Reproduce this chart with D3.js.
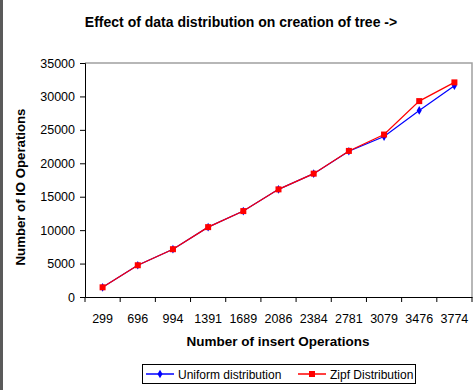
<!DOCTYPE html>
<html><head><meta charset="utf-8">
<script src="https://cdn.jsdelivr.net/npm/d3@7"></script>
<style>body{margin:0;background:#fff}svg{display:block}text{font-family:"Liberation Sans",Arial,sans-serif}</style>
</head><body><svg id="c" width="474" height="390"></svg>
<script>
const categories = ["299","696","994","1391","1689","2086","2384","2781","3079","3476","3774"];
const uniform = [1450,4750,7150,10450,12850,16100,18450,21800,24000,27900,31600];
const zipf    = [1450,4750,7150,10450,12850,16100,18450,21850,24300,29300,32100];
const yTicks  = [0,5000,10000,15000,20000,25000,30000,35000];
const seriesNames = ["Uniform distribution","Zipf Distribution"];
const colors = ["#0000ff","#ff0000"];

const svg = d3.select("#c");
const L=85, R=472, T=63, B=297;
svg.append("rect").attr("x",0).attr("y",0).attr("width",3).attr("height",390).attr("fill","#5a5a5a");

const x = d3.scaleBand().domain(categories).range([L,R]);
const y = d3.scaleLinear().domain([0,35000]).range([B,T]);

svg.append("path").attr("d",`M${L},${T}H${R}V${B}`).attr("fill","none").attr("stroke","#a0a0a0").attr("stroke-width",1.5);

const ya = svg.append("g").attr("transform",`translate(${L},0)`)
  .call(d3.axisLeft(y).tickValues(yTicks).tickSize(5).tickPadding(5).tickFormat(d3.format("d")));
ya.select(".domain").attr("stroke","#000");
ya.selectAll("text").attr("font-size",12.5).attr("fill","#000");

const xa = svg.append("g").attr("transform",`translate(0,${B})`)
  .call(d3.axisBottom(x).tickSize(0).tickPadding(17));
xa.select(".domain").attr("stroke","#000");
xa.selectAll("text").attr("font-size",12.5).attr("fill","#000");
const bounds = categories.map(c=>x(c)).concat([R]);
xa.selectAll("line.b").data(bounds).enter().append("line").attr("class","b")
  .attr("x1",d=>d).attr("x2",d=>d).attr("y1",0).attr("y2",5).attr("stroke","#000");

const line = d3.line().x((d,i)=>x(categories[i])+x.bandwidth()/2).y(d=>y(d));
[uniform,zipf].forEach((s,k)=>{
  svg.append("path").datum(s).attr("d",line).attr("fill","none").attr("stroke",colors[k]).attr("stroke-width",1.2);
});
svg.selectAll("path.um").data(uniform).enter().append("path").attr("class","um")
  .attr("transform",(d,i)=>`translate(${x(categories[i])+x.bandwidth()/2},${y(d)})`)
  .attr("d",d3.symbol(d3.symbolDiamond,22)).attr("fill",colors[0]);
svg.selectAll("rect.zm").data(zipf).enter().append("rect").attr("class","zm")
  .attr("x",(d,i)=>x(categories[i])+x.bandwidth()/2-3).attr("y",d=>y(d)-3)
  .attr("width",6).attr("height",6).attr("fill",colors[1]);

svg.append("text").attr("x",241).attr("y",27).attr("text-anchor","middle")
  .attr("font-size",14).attr("font-weight","bold").text("Effect of data distribution on creation of tree ->");
svg.append("text").attr("transform",`translate(25,187) rotate(-90)`).attr("text-anchor","middle")
  .attr("font-size",13.2).attr("font-weight","bold").text("Number of IO Operations");
svg.append("text").attr("x",278).attr("y",346).attr("text-anchor","middle")
  .attr("font-size",13.5).attr("font-weight","bold").text("Number of insert Operations");

const lg = svg.append("g");
lg.append("rect").attr("x",142.5).attr("y",364.5).attr("width",273).attr("height",19).attr("fill","#fff").attr("stroke","#000");
const lx=[146,298];
seriesNames.forEach((n,k)=>{
  const g = lg.append("g").attr("transform",`translate(${lx[k]},374)`);
  g.append("line").attr("x1",0).attr("x2",28).attr("stroke",colors[k]).attr("stroke-width",1.5);
  if(k===0) g.append("path").attr("transform","translate(14,0)").attr("d",d3.symbol(d3.symbolDiamond,22)).attr("fill",colors[k]);
  else g.append("rect").attr("x",11).attr("y",-3).attr("width",6).attr("height",6).attr("fill",colors[k]);
  g.append("text").attr("x",32).attr("y",4.5).attr("font-size",12).text(n);
});
</script></body></html>
